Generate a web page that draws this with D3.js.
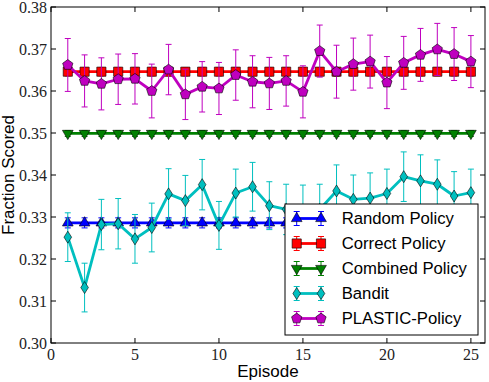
<!DOCTYPE html>
<html>
<head>
  <meta charset="utf-8">
  <script src="https://d3js.org/d3.v7.min.js"></script>
  <style>
    body { margin: 0; background: #fff; }
  </style>
</head>
<body>
  <svg id="chart" width="489" height="382"></svg>

  <script>
    // Datos
    const episodes = [1, 2, 3, 4, 5, 6, 7, 8, 9, 10, 11, 12, 13, 14, 15, 16, 17, 18, 19, 20, 21, 22, 23, 24, 25];
    const randomPolicy = [0.3286, 0.3286, 0.3286, 0.3286, 0.3286, 0.3286, 0.3286, 0.3286, 0.3286, 0.3286, 0.3286, 0.3286, 0.3286,
                          0.3286, 0.3286, 0.3286, 0.3286, 0.3286, 0.3286, 0.3286, 0.3286, 0.3286, 0.3286, 0.3286, 0.3286];
    const randomErr = 0.0012;
    const correctPolicy = [0.3646, 0.3646, 0.3646, 0.3646, 0.3646, 0.3646, 0.3646, 0.3646, 0.3646, 0.3646, 0.3646, 0.3646, 0.3646,
                           0.3646, 0.3646, 0.3646, 0.3646, 0.3646, 0.3646, 0.3646, 0.3646, 0.3646, 0.3646, 0.3646, 0.3646];
    const correctErr = 0.001;
    const combinedPolicy = [0.3499, 0.3499, 0.3499, 0.3499, 0.3499, 0.3499, 0.3499, 0.3499, 0.3499, 0.3499, 0.3499, 0.3499, 0.3499,
                            0.3499, 0.3499, 0.3499, 0.3499, 0.3499, 0.3499, 0.3499, 0.3499, 0.3499, 0.3499, 0.3499, 0.3499];
    const combinedErr = 0.0007;
    const bandit = [0.3252, 0.3132, 0.3282, 0.3284, 0.3248, 0.3275, 0.3355, 0.3339, 0.3377, 0.3280, 0.3357, 0.3372, 0.3327,
                    0.3318, 0.3316, 0.3318, 0.3362, 0.3342, 0.3345, 0.3356, 0.3396, 0.3386, 0.3378, 0.3350, 0.3358];
    const banditErr = [0.0058, 0.0058, 0.006, 0.006, 0.0058, 0.0058, 0.006, 0.006, 0.006, 0.0057, 0.0057, 0.0058, 0.0057,
                       0.006, 0.006, 0.006, 0.0062, 0.0058, 0.006, 0.0058, 0.0059, 0.0062, 0.0058, 0.0058, 0.0056];
    const plastic = [0.3662, 0.3624, 0.3617, 0.3628, 0.3629, 0.3600, 0.3651, 0.3592, 0.3610, 0.3606, 0.3638, 0.3622, 0.3618,
                     0.3624, 0.3598, 0.3695, 0.3646, 0.3664, 0.3670, 0.3620, 0.3667, 0.3686, 0.3699, 0.3688, 0.3670];
    const plasticErr = [0.0063, 0.0062, 0.0062, 0.006, 0.006, 0.0064, 0.006, 0.006, 0.006, 0.0062, 0.006, 0.0062, 0.0062,
                        0.006, 0.0062, 0.0062, 0.0063, 0.0062, 0.0063, 0.0062, 0.0063, 0.0063, 0.0062, 0.0063, 0.0062];
    const xTicks = [0, 5, 10, 15, 20, 25];
    const yTicks = [0.30, 0.31, 0.32, 0.33, 0.34, 0.35, 0.36, 0.37, 0.38];

    const svg = d3.select("#chart");
    const margin = { top: 7, right: 4, bottom: 39, left: 51 };
    const width = 489, height = 382;

    const x = d3.scaleLinear().domain([0, 25.84]).range([margin.left, width - margin.right]);
    const y = d3.scaleLinear().domain([0.30, 0.38]).range([height - margin.bottom, margin.top]);

    // Formas de los marcadores
    function polygon(n, r, rot) {
      const pts = d3.range(n).map(i => {
        const a = rot + i * 2 * Math.PI / n;
        return [r * Math.sin(a), -r * Math.cos(a)];
      });
      return "M" + pts.map(p => p.join(",")).join("L") + "Z";
    }
    const markers = {
      triangleUp: () => polygon(3, 6.2, 0),
      triangleDown: () => polygon(3, 6.2, Math.PI),
      square: () => "M-4.6,-4.6L4.6,-4.6L4.6,4.6L-4.6,4.6Z",
      thinDiamond: () => "M0,-6L3.8,0L0,6L-3.8,0Z",
      pentagon: () => polygon(5, 5.4, 0)
    };

    const series = [
      { name: "Random Policy", values: randomPolicy, err: episodes.map(() => randomErr), color: "#0000ff", marker: "triangleUp" },
      { name: "Correct Policy", values: correctPolicy, err: episodes.map(() => correctErr), color: "#ff0000", marker: "square" },
      { name: "Combined Policy", values: combinedPolicy, err: episodes.map(() => combinedErr), color: "#008000", marker: "triangleDown" },
      { name: "Bandit", values: bandit, err: banditErr, color: "#00bfbf", marker: "thinDiamond" },
      { name: "PLASTIC-Policy", values: plastic, err: plasticErr, color: "#bf00bf", marker: "pentagon" }
    ];

    const line = d3.line().x(d => x(d.ep)).y(d => y(d.v));

    series.forEach(s => {
      const pts = episodes.map((ep, i) => ({ ep: ep, v: s.values[i], e: s.err[i] }));
      const g = svg.append("g");

      // Barras de error
      const eb = g.selectAll(".eb").data(pts).enter().append("g").attr("stroke", s.color).attr("stroke-width", 1);
      eb.append("line")
        .attr("x1", d => x(d.ep)).attr("x2", d => x(d.ep))
        .attr("y1", d => y(d.v - d.e)).attr("y2", d => y(d.v + d.e));
      eb.append("line")
        .attr("x1", d => x(d.ep) - 3).attr("x2", d => x(d.ep) + 3)
        .attr("y1", d => y(d.v + d.e)).attr("y2", d => y(d.v + d.e));
      eb.append("line")
        .attr("x1", d => x(d.ep) - 3).attr("x2", d => x(d.ep) + 3)
        .attr("y1", d => y(d.v - d.e)).attr("y2", d => y(d.v - d.e));

      g.append("path")
        .datum(pts)
        .attr("d", line)
        .attr("fill", "none")
        .attr("stroke", s.color)
        .attr("stroke-width", 2.8)
        .attr("stroke-linejoin", "round");

      g.selectAll(".mk").data(pts).enter().append("path")
        .attr("transform", d => `translate(${x(d.ep)},${y(d.v)})`)
        .attr("d", markers[s.marker]())
        .attr("fill", s.color)
        .attr("stroke", "#000")
        .attr("stroke-width", 0.6);
    });

    // Marco y ejes
    const x0 = margin.left, x1 = width - margin.right, y0 = height - margin.bottom, y1 = margin.top;
    svg.append("rect")
      .attr("x", x0).attr("y", y1).attr("width", x1 - x0).attr("height", y0 - y1)
      .attr("fill", "none").attr("stroke", "#000").attr("stroke-width", 1);

    const tickLen = 5;
    const tickG = svg.append("g").attr("stroke", "#000").attr("stroke-width", 1);
    xTicks.forEach(t => {
      tickG.append("line").attr("x1", x(t)).attr("x2", x(t)).attr("y1", y0).attr("y2", y0 - tickLen);
      tickG.append("line").attr("x1", x(t)).attr("x2", x(t)).attr("y1", y1).attr("y2", y1 + tickLen);
    });
    yTicks.forEach(t => {
      tickG.append("line").attr("x1", x0).attr("x2", x0 + tickLen).attr("y1", y(t)).attr("y2", y(t));
      tickG.append("line").attr("x1", x1).attr("x2", x1 - tickLen).attr("y1", y(t)).attr("y2", y(t));
    });

    svg.append("g").selectAll("text").data(xTicks).enter().append("text")
      .attr("x", d => x(d)).attr("y", y0 + 17)
      .attr("text-anchor", "middle")
      .attr("font-family", "Liberation Serif, serif").attr("font-size", 16).attr("fill", "#222")
      .text(d => d);

    svg.append("g").selectAll("text").data(yTicks).enter().append("text")
      .attr("x", x0 - 4).attr("y", d => y(d) + 5.5)
      .attr("text-anchor", "end")
      .attr("font-family", "Liberation Serif, serif").attr("font-size", 16).attr("fill", "#222")
      .text(d => d.toFixed(2));

    svg.append("text")
      .attr("x", (x0 + x1) / 2).attr("y", 377)
      .attr("text-anchor", "middle")
      .attr("font-family", "Liberation Sans, Arial, sans-serif").attr("font-size", 17)
      .text("Episode");

    svg.append("text")
      .attr("transform", `translate(14,${(y0 + y1) / 2}) rotate(-90)`)
      .attr("text-anchor", "middle")
      .attr("font-family", "Liberation Sans, Arial, sans-serif").attr("font-size", 17)
      .text("Fraction Scored");

    // Leyenda
    const legend = svg.append("g").attr("transform", "translate(285,204)");
    legend.append("rect")
      .attr("width", 193).attr("height", 131)
      .attr("fill", "#fff").attr("stroke", "#000").attr("stroke-width", 1);

    series.forEach((s, i) => {
      const ly = 14.5 + i * 25;
      const row = legend.append("g").attr("transform", `translate(0,${ly})`);
      [11.7, 36].forEach(mx => {
        row.append("line").attr("x1", mx).attr("x2", mx).attr("y1", -7).attr("y2", 7).attr("stroke", s.color);
        row.append("line").attr("x1", mx - 3).attr("x2", mx + 3).attr("y1", -7).attr("y2", -7).attr("stroke", s.color);
        row.append("line").attr("x1", mx - 3).attr("x2", mx + 3).attr("y1", 7).attr("y2", 7).attr("stroke", s.color);
      });
      row.append("line").attr("x1", 11.7).attr("x2", 36).attr("y1", 0).attr("y2", 0)
        .attr("stroke", s.color).attr("stroke-width", 2.8);
      [11.7, 36].forEach(mx => {
        row.append("path")
          .attr("transform", `translate(${mx},0)`)
          .attr("d", markers[s.marker]())
          .attr("fill", s.color).attr("stroke", "#000").attr("stroke-width", 0.6);
      });
      row.append("text")
        .attr("x", 56.7).attr("y", 5.8)
        .attr("font-family", "Liberation Sans, Arial, sans-serif").attr("font-size", 16.7)
        .text(s.name);
    });
  </script>
</body>
</html>
